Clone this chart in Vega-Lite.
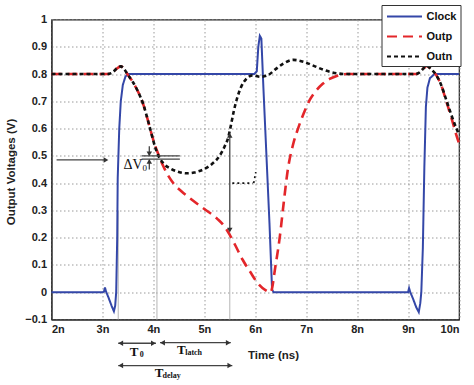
{
  "$schema": "https://vega.github.io/schema/vega-lite/v6.json",
  "width": 407.5,
  "height": 300,
  "autosize": "none",
  "padding": {"left": 51.5, "top": 19.5, "right": 15, "bottom": 65.5},
  "background": "white",
  "config": {
    "view": {"stroke": "#222", "strokeWidth": 1.2},
    "font": "Liberation Sans",
    "axis": {
      "labelFont": "Liberation Sans",
      "labelFontWeight": "bold",
      "labelFontSize": 11,
      "labelColor": "#222",
      "titleFont": "Liberation Sans",
      "titleFontWeight": "bold",
      "titleFontSize": 11.5,
      "titleColor": "#222",
      "domainColor": "#222",
      "ticks": false,
      "grid": true,
      "gridColor": "#9a9a9a",
      "gridDash": [1.5, 2.5],
      "gridWidth": 1
    },
    "axisY": {"labelOverlap": false, "labelSeparation": -20}
  },
  "datasets": {
    "curves": [
      {"series": "Clock", "t": 2, "v": 0},
      {"series": "Clock", "t": 3, "v": 0},
      {"series": "Clock", "t": 3.03, "v": 0.002},
      {"series": "Clock", "t": 3.05, "v": 0.017},
      {"series": "Clock", "t": 3.07, "v": 0.003},
      {"series": "Clock", "t": 3.12, "v": -0.02},
      {"series": "Clock", "t": 3.18, "v": -0.05},
      {"series": "Clock", "t": 3.225, "v": -0.07},
      {"series": "Clock", "t": 3.25, "v": -0.05},
      {"series": "Clock", "t": 3.27, "v": 0.0},
      {"series": "Clock", "t": 3.29, "v": 0.2},
      {"series": "Clock", "t": 3.30, "v": 0.42},
      {"series": "Clock", "t": 3.33, "v": 0.6},
      {"series": "Clock", "t": 3.36, "v": 0.7},
      {"series": "Clock", "t": 3.40, "v": 0.76},
      {"series": "Clock", "t": 3.45, "v": 0.79},
      {"series": "Clock", "t": 3.5, "v": 0.8},
      {"series": "Clock", "t": 5.98, "v": 0.8},
      {"series": "Clock", "t": 6.03, "v": 0.81},
      {"series": "Clock", "t": 6.06, "v": 0.9},
      {"series": "Clock", "t": 6.09, "v": 0.94},
      {"series": "Clock", "t": 6.12, "v": 0.93},
      {"series": "Clock", "t": 6.16, "v": 0.75},
      {"series": "Clock", "t": 6.22, "v": 0.5},
      {"series": "Clock", "t": 6.28, "v": 0.25},
      {"series": "Clock", "t": 6.33, "v": 0.01},
      {"series": "Clock", "t": 6.36, "v": 0},
      {"series": "Clock", "t": 9.0, "v": 0},
      {"series": "Clock", "t": 9.02, "v": 0.015},
      {"series": "Clock", "t": 9.04, "v": 0.002},
      {"series": "Clock", "t": 9.1, "v": -0.025},
      {"series": "Clock", "t": 9.16, "v": -0.055},
      {"series": "Clock", "t": 9.21, "v": -0.073},
      {"series": "Clock", "t": 9.24, "v": -0.04},
      {"series": "Clock", "t": 9.26, "v": 0.0},
      {"series": "Clock", "t": 9.29, "v": 0.16},
      {"series": "Clock", "t": 9.32, "v": 0.46},
      {"series": "Clock", "t": 9.35, "v": 0.68},
      {"series": "Clock", "t": 9.38, "v": 0.75},
      {"series": "Clock", "t": 9.43, "v": 0.785},
      {"series": "Clock", "t": 9.52, "v": 0.8},
      {"series": "Clock", "t": 10, "v": 0.8},

      {"series": "Outp", "t": 2, "v": 0.8},
      {"series": "Outp", "t": 3.1, "v": 0.8},
      {"series": "Outp", "t": 3.2, "v": 0.806},
      {"series": "Outp", "t": 3.28, "v": 0.82},
      {"series": "Outp", "t": 3.36, "v": 0.828},
      {"series": "Outp", "t": 3.42, "v": 0.82},
      {"series": "Outp", "t": 3.5, "v": 0.797},
      {"series": "Outp", "t": 3.6, "v": 0.77},
      {"series": "Outp", "t": 3.7, "v": 0.735},
      {"series": "Outp", "t": 3.8, "v": 0.69},
      {"series": "Outp", "t": 3.9, "v": 0.625},
      {"series": "Outp", "t": 3.96, "v": 0.583},
      {"series": "Outp", "t": 4.03, "v": 0.54},
      {"series": "Outp", "t": 4.1, "v": 0.505},
      {"series": "Outp", "t": 4.2, "v": 0.46},
      {"series": "Outp", "t": 4.3, "v": 0.425},
      {"series": "Outp", "t": 4.4, "v": 0.398},
      {"series": "Outp", "t": 4.55, "v": 0.37},
      {"series": "Outp", "t": 4.75, "v": 0.34},
      {"series": "Outp", "t": 5.0, "v": 0.305},
      {"series": "Outp", "t": 5.25, "v": 0.27},
      {"series": "Outp", "t": 5.4, "v": 0.24},
      {"series": "Outp", "t": 5.5, "v": 0.21},
      {"series": "Outp", "t": 5.6, "v": 0.175},
      {"series": "Outp", "t": 5.75, "v": 0.12},
      {"series": "Outp", "t": 5.9, "v": 0.075},
      {"series": "Outp", "t": 6.05, "v": 0.033},
      {"series": "Outp", "t": 6.2, "v": 0.008},
      {"series": "Outp", "t": 6.3, "v": 0.0},
      {"series": "Outp", "t": 6.4, "v": 0.1},
      {"series": "Outp", "t": 6.48, "v": 0.2},
      {"series": "Outp", "t": 6.56, "v": 0.33},
      {"series": "Outp", "t": 6.64, "v": 0.45},
      {"series": "Outp", "t": 6.74, "v": 0.54},
      {"series": "Outp", "t": 6.84, "v": 0.6},
      {"series": "Outp", "t": 6.95, "v": 0.655},
      {"series": "Outp", "t": 7.07, "v": 0.705},
      {"series": "Outp", "t": 7.2, "v": 0.74},
      {"series": "Outp", "t": 7.33, "v": 0.765},
      {"series": "Outp", "t": 7.46, "v": 0.782},
      {"series": "Outp", "t": 7.6, "v": 0.793},
      {"series": "Outp", "t": 7.8, "v": 0.8},
      {"series": "Outp", "t": 9.15, "v": 0.8},
      {"series": "Outp", "t": 9.22, "v": 0.805},
      {"series": "Outp", "t": 9.3, "v": 0.82},
      {"series": "Outp", "t": 9.37, "v": 0.83},
      {"series": "Outp", "t": 9.45, "v": 0.818},
      {"series": "Outp", "t": 9.55, "v": 0.797},
      {"series": "Outp", "t": 9.65, "v": 0.76},
      {"series": "Outp", "t": 9.75, "v": 0.7},
      {"series": "Outp", "t": 9.85, "v": 0.64},
      {"series": "Outp", "t": 9.95, "v": 0.575},
      {"series": "Outp", "t": 10, "v": 0.546},

      {"series": "Outn", "t": 2, "v": 0.8},
      {"series": "Outn", "t": 3.1, "v": 0.8},
      {"series": "Outn", "t": 3.2, "v": 0.806},
      {"series": "Outn", "t": 3.28, "v": 0.82},
      {"series": "Outn", "t": 3.36, "v": 0.828},
      {"series": "Outn", "t": 3.42, "v": 0.82},
      {"series": "Outn", "t": 3.5, "v": 0.797},
      {"series": "Outn", "t": 3.6, "v": 0.77},
      {"series": "Outn", "t": 3.7, "v": 0.735},
      {"series": "Outn", "t": 3.8, "v": 0.69},
      {"series": "Outn", "t": 3.9, "v": 0.625},
      {"series": "Outn", "t": 3.96, "v": 0.583},
      {"series": "Outn", "t": 4.03, "v": 0.535},
      {"series": "Outn", "t": 4.1, "v": 0.5},
      {"series": "Outn", "t": 4.2, "v": 0.472},
      {"series": "Outn", "t": 4.35, "v": 0.452},
      {"series": "Outn", "t": 4.5, "v": 0.441},
      {"series": "Outn", "t": 4.65, "v": 0.436},
      {"series": "Outn", "t": 4.8, "v": 0.439},
      {"series": "Outn", "t": 5.0, "v": 0.452},
      {"series": "Outn", "t": 5.15, "v": 0.47},
      {"series": "Outn", "t": 5.3, "v": 0.5},
      {"series": "Outn", "t": 5.4, "v": 0.535},
      {"series": "Outn", "t": 5.47, "v": 0.568},
      {"series": "Outn", "t": 5.52, "v": 0.61},
      {"series": "Outn", "t": 5.58, "v": 0.665},
      {"series": "Outn", "t": 5.65, "v": 0.715},
      {"series": "Outn", "t": 5.72, "v": 0.752},
      {"series": "Outn", "t": 5.83, "v": 0.783},
      {"series": "Outn", "t": 5.95, "v": 0.795},
      {"series": "Outn", "t": 6.1, "v": 0.79},
      {"series": "Outn", "t": 6.25, "v": 0.796},
      {"series": "Outn", "t": 6.4, "v": 0.818},
      {"series": "Outn", "t": 6.55, "v": 0.838},
      {"series": "Outn", "t": 6.75, "v": 0.852},
      {"series": "Outn", "t": 6.95, "v": 0.845},
      {"series": "Outn", "t": 7.15, "v": 0.83},
      {"series": "Outn", "t": 7.35, "v": 0.815},
      {"series": "Outn", "t": 7.6, "v": 0.803},
      {"series": "Outn", "t": 7.8, "v": 0.8},
      {"series": "Outn", "t": 9.15, "v": 0.8},
      {"series": "Outn", "t": 9.22, "v": 0.805},
      {"series": "Outn", "t": 9.3, "v": 0.82},
      {"series": "Outn", "t": 9.37, "v": 0.83},
      {"series": "Outn", "t": 9.45, "v": 0.818},
      {"series": "Outn", "t": 9.55, "v": 0.797},
      {"series": "Outn", "t": 9.65, "v": 0.76},
      {"series": "Outn", "t": 9.75, "v": 0.705},
      {"series": "Outn", "t": 9.85, "v": 0.65},
      {"series": "Outn", "t": 9.95, "v": 0.6},
      {"series": "Outn", "t": 10, "v": 0.578}
    ],
    "guides": [
      {"t": 3.31, "v": -0.1, "t2": 3.31, "v2": 0.3},
      {"t": 4.07, "v": -0.1, "t2": 4.07, "v2": 0.49},
      {"t": 5.5, "v": -0.1, "t2": 5.5, "v2": 0.22}
    ],
    "arrows": [
      {"t": 2.1, "v": 0.485, "t2": 3.06, "v2": 0.485},
      {"t": 3.77, "v": 0.5, "t2": 4.52, "v2": 0.5},
      {"t": 3.77, "v": 0.488, "t2": 4.52, "v2": 0.488},
      {"t": 3.92, "v": 0.535, "t2": 3.92, "v2": 0.505},
      {"t": 3.92, "v": 0.45, "t2": 3.92, "v2": 0.483},
      {"t": 5.5, "v": 0.225, "t2": 5.5, "v2": 0.575},
      {"t": 3.31, "v": -0.187, "t2": 4.05, "v2": -0.187},
      {"t": 4.13, "v": -0.185, "t2": 5.52, "v2": -0.185},
      {"t": 3.31, "v": -0.269, "t2": 5.55, "v2": -0.269}
    ],
    "heads": [
      {"t": 3.07, "v": 0.485, "dir": "right"},
      {"t": 3.92, "v": 0.507, "dir": "down"},
      {"t": 3.92, "v": 0.48, "dir": "up"},
      {"t": 5.5, "v": 0.575, "dir": "up"},
      {"t": 5.5, "v": 0.228, "dir": "down"},
      {"t": 3.36, "v": -0.187, "dir": "left"},
      {"t": 4.0, "v": -0.187, "dir": "right"},
      {"t": 4.18, "v": -0.185, "dir": "left"},
      {"t": 5.47, "v": -0.185, "dir": "right"},
      {"t": 3.36, "v": -0.269, "dir": "left"},
      {"t": 5.5, "v": -0.269, "dir": "right"}
    ],
    "scribble": [
      {"seg": "a", "t": 5.55, "v": 0.4},
      {"seg": "a", "t": 5.95, "v": 0.4},
      {"seg": "b", "t": 5.97, "v": 0.4},
      {"seg": "b", "t": 6.01, "v": 0.44}
    ],
    "labels": [
      {"t": 3.62, "v": -0.218, "text": "T", "role": "T"},
      {"t": 3.77, "v": -0.23, "text": "0", "role": "Tsub"},
      {"t": 4.55, "v": -0.212, "text": "T", "role": "T"},
      {"t": 4.79, "v": -0.221, "text": "latch", "role": "Tsub"},
      {"t": 4.11, "v": -0.296, "text": "T", "role": "T"},
      {"t": 4.36, "v": -0.307, "text": "delay", "role": "Tsub"},
      {"t": 3.6, "v": 0.466, "text": "ΔV", "role": "dv"},
      {"t": 3.83, "v": 0.455, "text": "0", "role": "dvsub"}
    ]
  },
  "encoding": {
    "x": {
      "field": "t", "type": "quantitative",
      "scale": {"domain": [2, 10], "nice": false, "zero": false},
      "axis": {
        "values": [2, 3, 4, 5, 6, 7, 8, 9, 10],
        "labelExpr": "datum.value + 'n'",
        "labelOverlap": false,
        "labelPadding": 4,
        "title": "Time (ns)",
        "titleX": 221.5,
        "titleY": 36,
        "titleBaseline": "middle",
        "titleAlign": "center"
      }
    },
    "y": {
      "field": "v", "type": "quantitative",
      "scale": {"domain": [-0.1, 1], "nice": false, "zero": false},
      "axis": {
        "values": [-0.1, 0, 0.1, 0.2, 0.3, 0.4, 0.5, 0.6, 0.7, 0.8, 0.9, 1],
        "format": ".1~f",
        "labelOverlap": false,
        "labelPadding": 5,
        "title": "Output Voltages (V)",
        "titleX": -40.5,
        "titleY": 152,
        "titleBaseline": "middle",
        "titleAlign": "center",
        "titleAngle": -90
      }
    }
  },
  "layer": [
    {
      "data": {"name": "guides"},
      "mark": {"type": "rule", "color": "#b5b5b5", "strokeWidth": 1},
      "encoding": {
        "x2": {"field": "t2"},
        "y2": {"field": "v2"}
      }
    },
    {
      "data": {"name": "curves"},
      "transform": [{"filter": "datum.series == 'Clock'"}],
      "mark": {"type": "line", "strokeWidth": 2, "interpolate": "linear"},
      "encoding": {
        "color": {
          "field": "series", "type": "nominal",
          "scale": {"domain": ["Clock", "Outp", "Outn"], "range": ["#3447a8", "#e3262a", "#111111"]},
          "legend": {
            "title": null,
            "orient": "none",
            "legendX": 330,
            "legendY": -14.5,
            "strokeColor": "#333",
            "fillColor": "white",
            "padding": 4,
            "symbolType": "M-1,0H4.83",
            "symbolSize": 144,
            "symbolStrokeWidth": 2.2,
            "labelOffset": 26,
            "labelFont": "Liberation Sans",
            "labelFontWeight": "bold",
            "labelFontSize": 11,
            "labelColor": "#111",
            "rowPadding": 7
          }
        },
        "strokeDash": {
          "field": "series", "type": "nominal",
          "scale": {"domain": ["Clock", "Outp", "Outn"], "range": [[1, 0], [10, 6], [4, 3]]},
          "legend": {
            "title": null,
            "orient": "none",
            "legendX": 330,
            "legendY": -14.5,
            "strokeColor": "#333",
            "fillColor": "white",
            "padding": 4,
            "symbolType": "M-1,0H4.83",
            "symbolSize": 144,
            "symbolStrokeWidth": 2.2,
            "labelOffset": 26,
            "labelFont": "Liberation Sans",
            "labelFontWeight": "bold",
            "labelFontSize": 11,
            "labelColor": "#111",
            "rowPadding": 7
          }
        }
      }
    },
    {
      "data": {"name": "curves"},
      "transform": [{"filter": "datum.series != 'Clock'"}],
      "mark": {"type": "line", "strokeWidth": 2.6, "interpolate": "monotone"},
      "encoding": {
        "color": {"field": "series", "type": "nominal"},
        "strokeDash": {"field": "series", "type": "nominal"}
      }
    },
    {
      "data": {"name": "scribble"},
      "mark": {"type": "line", "color": "#111", "strokeWidth": 1.6, "strokeDash": [2, 3]},
      "encoding": {
        "detail": {"field": "seg"}
      }
    },
    {
      "data": {"name": "arrows"},
      "mark": {"type": "rule", "color": "#444", "strokeWidth": 1.3},
      "encoding": {
        "x2": {"field": "t2"},
        "y2": {"field": "v2"}
      }
    },
    {
      "data": {"name": "heads"},
      "mark": {"type": "point", "filled": true, "color": "#333", "size": 30, "opacity": 1},
      "encoding": {
        "shape": {
          "field": "dir", "type": "nominal",
          "scale": {"domain": ["left", "right", "up", "down"], "range": ["triangle-left", "triangle-right", "triangle-up", "triangle-down"]},
          "legend": null
        }
      }
    },
    {
      "data": {"name": "labels"},
      "transform": [{"filter": "datum.role == 'T'"}],
      "mark": {"type": "text", "font": "Liberation Serif", "fontWeight": "bold", "fontSize": 13, "color": "#111", "baseline": "middle", "align": "center"},
      "encoding": {"text": {"field": "text"}}
    },
    {
      "data": {"name": "labels"},
      "transform": [{"filter": "datum.role == 'Tsub'"}],
      "mark": {"type": "text", "font": "Liberation Serif", "fontWeight": "bold", "fontSize": 8, "color": "#111", "baseline": "middle", "align": "center"},
      "encoding": {"text": {"field": "text"}}
    },
    {
      "data": {"name": "labels"},
      "transform": [{"filter": "datum.role == 'dv'"}],
      "mark": {"type": "text", "font": "Liberation Serif", "fontSize": 14, "color": "#111", "baseline": "middle", "align": "center"},
      "encoding": {"text": {"field": "text"}}
    },
    {
      "data": {"name": "labels"},
      "transform": [{"filter": "datum.role == 'dvsub'"}],
      "mark": {"type": "text", "font": "Liberation Serif", "fontSize": 9, "color": "#111", "baseline": "middle", "align": "center"},
      "encoding": {"text": {"field": "text"}}
    }
  ]
}
